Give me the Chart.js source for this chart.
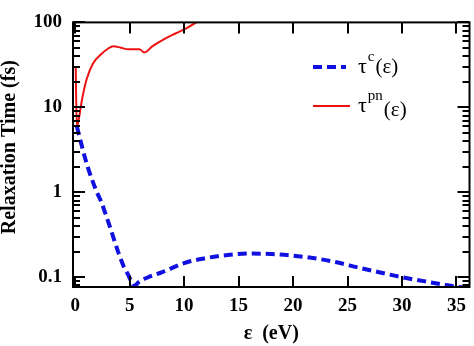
<!DOCTYPE html>
<html>
<head>
<meta charset="utf-8">
<script src="https://cdn.jsdelivr.net/npm/chart.js@4/dist/chart.umd.min.js"></script>
<style>
  html, body { margin: 0; padding: 0; background: #fff; }
  #wrap { width: 474px; height: 346px; position: relative; }
</style>
</head>
<body>
<div id="wrap"><canvas id="c" width="474" height="346"></canvas></div>
<script>
// ---- data ----
const energyC = [0.15, 0.5, 0.75, 1.2, 1.65, 2.0, 2.4, 2.8, 3.2, 3.6, 4.0, 4.5, 4.85, 5.2, 5.45, 5.8, 6.7, 8, 10, 12, 14, 16, 18, 20, 22, 24, 26, 28, 30, 32, 34, 36.2];
const tauC    = [6.0, 4.0, 3.0, 1.9, 1.3, 1.0, 0.77, 0.55, 0.39, 0.27, 0.19, 0.13, 0.108, 0.086, 0.079, 0.087, 0.1, 0.115, 0.147, 0.168, 0.183, 0.19, 0.188, 0.18, 0.167, 0.15, 0.13, 0.114, 0.1, 0.09, 0.081, 0.074];

const energyPN = [0.05, 0.15, 0.35, 0.6, 1.05, 1.65, 2.4, 3.0, 3.5, 4.2, 4.85, 5.9, 6.35, 7.1, 8.3, 9.2, 10.1, 11.1, 11.6];
const tauPN    = [29, 5.9, 7.5, 11.8, 21.4, 33, 42.4, 49, 52.5, 50.4, 48.3, 48.3, 44.3, 52.5, 65, 74, 84, 100, 110];

const xTickValues = [0, 5, 10, 15, 20, 25, 30, 35];
const yTickValues = [0.1, 1, 10, 100];
const yTickLabels = ['0.1', '1', '10', '100'];

const legendBase = ['τ', 'τ'];
const legendSup  = ['c', 'pn'];
const legendTail = ['(ε)', '(ε)'];

const xTitle = 'ε  (eV)';
const yTitle = 'Relaxation Time (fs)';

// ---- chart ----
const SERIF = '"Liberation Serif", "DejaVu Serif", serif';

const framePlugin = {
  id: 'frame',
  afterDatasetsDraw(chart) {
    const ctx = chart.ctx;
    const a = chart.chartArea;
    const xs = chart.scales.x, ys = chart.scales.y;
    ctx.save();
    ctx.strokeStyle = '#000';
    ctx.lineWidth = 2;
    ctx.strokeRect(a.left, a.top, a.right - a.left, a.bottom - a.top);
    ctx.beginPath();
    // x ticks (inward, top and bottom)
    xTickValues.forEach(v => {
      const px = Math.round(xs.getPixelForValue(v));
      ctx.moveTo(px, a.bottom); ctx.lineTo(px, a.bottom - 11);
      ctx.moveTo(px, a.top); ctx.lineTo(px, a.top + 11);
    });
    // y ticks, major and minor (inward, left and right)
    for (let e = -2; e <= 2; e++) {
      for (let m = 1; m <= 9; m++) {
        const v = m * Math.pow(10, e);
        if (v < ys.min || v > ys.max * 1.0001) continue;
        const py = Math.round(ys.getPixelForValue(v));
        const len = m === 1 ? 12 : 7;
        ctx.moveTo(a.left, py); ctx.lineTo(a.left + len, py);
        ctx.moveTo(a.right, py); ctx.lineTo(a.right - len, py);
      }
    }
    ctx.stroke();

    // legend
    const ds = chart.data.datasets;
    const rows = [67, 106];
    ds.forEach((d, i) => {
      const y = rows[i];
      ctx.save();
      ctx.strokeStyle = d.borderColor;
      ctx.lineWidth = d.borderWidth;
      ctx.setLineDash(d.borderDash || []);
      ctx.beginPath();
      ctx.moveTo(313, y);
      ctx.lineTo(i === 0 ? 346 : 350, y);
      ctx.stroke();
      ctx.restore();

      ctx.fillStyle = '#000';
      ctx.textBaseline = 'alphabetic';
      ctx.textAlign = 'left';
      let x = 358;
      const base = y + 6;
      ctx.font = '22px ' + SERIF;
      ctx.fillText(legendBase[i], x, base);
      x += ctx.measureText(legendBase[i]).width + 1;
      ctx.font = '15px ' + SERIF;
      ctx.fillText(legendSup[i], x, base - 12);
      x += ctx.measureText(legendSup[i]).width + 1;
      ctx.font = '21px ' + SERIF;
      ctx.fillText(legendTail[i], x, base + (i === 0 ? 0 : 4));
    });
    ctx.restore();
  }
};

new Chart(document.getElementById('c'), {
  type: 'line',
  data: {
    datasets: [
      {
        label: 'τc(ε)',
        data: energyC.map((e, i) => ({ x: e, y: tauC[i] })),
        borderColor: '#1010e0',
        borderWidth: 4,
        borderDash: [9, 5],
        pointRadius: 0,
        cubicInterpolationMode: 'monotone',
        clip: 0,
        fill: false
      },
      {
        label: 'τpn(ε)',
        data: energyPN.map((e, i) => ({ x: e, y: tauPN[i] })),
        borderColor: '#ee1111',
        borderWidth: 2,
        pointRadius: 0,
        cubicInterpolationMode: 'monotone',
        clip: 0,
        fill: false
      }
    ]
  },
  options: {
    responsive: false,
    animation: false,
    devicePixelRatio: 1,
    layout: { padding: { top: 6, right: 2, left: 0, bottom: 0 } },
    plugins: { legend: { display: false }, tooltip: { enabled: false } },
    scales: {
      x: {
        type: 'linear',
        min: -0.2,
        max: 36.2,
        afterBuildTicks: s => { s.ticks = xTickValues.map(v => ({ value: v })); },
        afterFit: s => { s.height = 59; },
        grid: { display: false, drawTicks: false },
        border: { display: false },
        ticks: {
          padding: 8,
          color: '#000',
          font: { family: SERIF, size: 19, weight: 'bold' },
          maxRotation: 0,
          callback: v => String(v)
        },
        title: {
          display: true,
          text: xTitle,
          color: '#000',
          font: { family: SERIF, size: 20, weight: 'bold' },
          padding: { top: 0, bottom: 0 }
        }
      },
      y: {
        type: 'logarithmic',
        min: 0.0768,
        max: 100,
        afterBuildTicks: s => { s.ticks = yTickValues.map(v => ({ value: v })); },
        afterFit: s => { s.width = 73; },
        grid: { display: false, drawTicks: false },
        border: { display: false },
        ticks: {
          padding: 11,
          color: '#000',
          font: { family: SERIF, size: 19, weight: 'bold' },
          callback: (v) => { const k = yTickValues.indexOf(v); return k >= 0 ? yTickLabels[k] : ''; }
        },
        title: {
          display: true,
          text: '   ' + yTitle,
          color: '#000',
          font: { family: SERIF, size: 20, weight: 'bold', lineHeight: 1 },
          padding: { top: 0, bottom: 0 }
        }
      }
    }
  },
  plugins: [framePlugin]
});
</script>
</body>
</html>
